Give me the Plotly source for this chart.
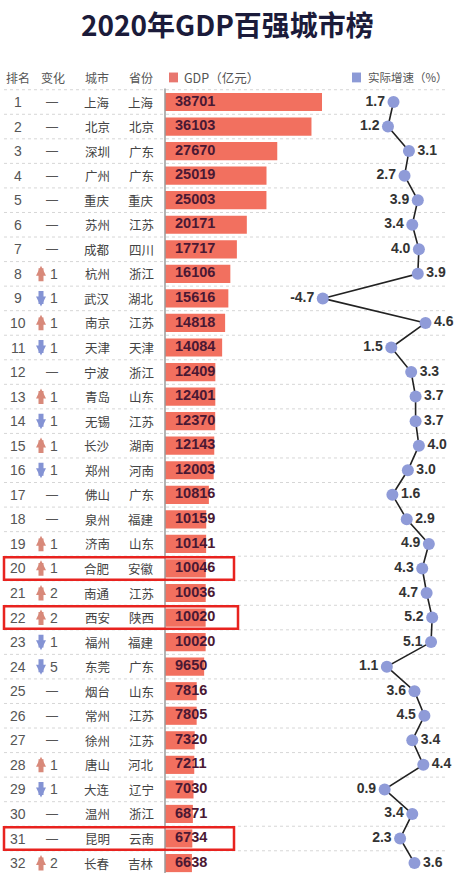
import plotly.graph_objects as go

# ---------------- data ----------------
ranks = list(range(1, 33))
cities = ["上海", "北京", "深圳", "广州", "重庆", "苏州", "成都", "杭州", "武汉", "南京",
          "天津", "宁波", "青岛", "无锡", "长沙", "郑州", "佛山", "泉州", "济南", "合肥",
          "南通", "西安", "福州", "东莞", "烟台", "常州", "徐州", "唐山", "大连", "温州",
          "昆明", "长春"]
provinces = ["上海", "北京", "广东", "广东", "重庆", "江苏", "四川", "浙江", "湖北", "江苏",
             "天津", "浙江", "山东", "江苏", "湖南", "河南", "广东", "福建", "山东", "安徽",
             "江苏", "陕西", "福建", "广东", "山东", "江苏", "江苏", "河北", "辽宁", "浙江",
             "云南", "吉林"]
changes = [0, 0, 0, 0, 0, 0, 0, 1, -1, 1, -1, 0, 1, -1, 1, -1, 0, 0, 1, 1,
           2, 2, -1, -5, 0, 0, 0, 1, -1, 0, 0, 2]
gdp = [38701, 36103, 27670, 25019, 25003, 20171, 17717, 16106, 15616, 14818,
       14084, 12409, 12401, 12370, 12143, 12003, 10816, 10159, 10141, 10046,
       10036, 10020, 10020, 9650, 7816, 7805, 7320, 7211, 7030, 6871, 6734, 6638]
growth = [1.7, 1.2, 3.1, 2.7, 3.9, 3.4, 4.0, 3.9, -4.7, 4.6, 1.5, 3.3, 3.7, 3.7, 4.0, 3.0,
          1.6, 2.9, 4.9, 4.3, 4.7, 5.2, 5.1, 1.1, 3.6, 4.5, 3.4, 4.4, 0.9, 3.4, 2.3, 3.6]

title_text = "2020年GDP百强城市榜"
header_labels = ["排名", "变化", "城市", "省份"]
gdp_legend = "GDP（亿元）"
growth_legend = "实际增速（%）"
highlight_ranks = [20, 22, 31]

# ---------------- geometry / style ----------------
W, H = 455, 873
ROW0_PX, ROW_STEP = 102, 24.55


def py_to_rank(py):
    return 1 + (py - ROW0_PX) / ROW_STEP


y_range = [py_to_rank(H), py_to_rank(0)]
BAR_ZERO_PX, BAR_SCALE = 165, 0.004057
x_range = [-BAR_ZERO_PX / BAR_SCALE, (W - BAR_ZERO_PX) / BAR_SCALE]
G_ZERO_PX, G_SCALE = 374.7, 11.05
x2_range = [-G_ZERO_PX / G_SCALE, (W - G_ZERO_PX) / G_SCALE]

NUM_FONT = "Liberation Sans"
CJK_FONT = "Noto Sans CJK SC"

label_sides = ["L", "L", "R", "L", "L", "L", "L", "R", "L", "R", "L", "R", "R", "R", "R", "R",
               "R", "R", "L", "L", "L", "L", "L", "L", "L", "L", "R", "R", "L", "L", "L", "R"]
text_pos = ["middle left" if s == "L" else "middle right" for s in label_sides]

fig = go.Figure()

fig.add_trace(go.Bar(
    x=gdp, y=ranks, orientation="h", width=0.74,
    marker=dict(color="#f2705f", line=dict(width=0)),
    hoverinfo="skip", showlegend=False))

fig.add_trace(go.Scatter(
    x=[10 / BAR_SCALE] * len(gdp), y=ranks, mode="text",
    text=[str(v) for v in gdp], textposition="middle right",
    textfont=dict(family=NUM_FONT, size=14.5, color="#4a1833", weight="bold"),
    hoverinfo="skip", showlegend=False))

fig.add_trace(go.Scatter(
    x=growth, y=ranks, xaxis="x2", mode="lines+markers+text",
    line=dict(color="#222222", width=1.6),
    marker=dict(size=12, color="#8f9bd8", line=dict(width=0)),
    text=[f"{v:.1f}" for v in growth], textposition=text_pos,
    textfont=dict(family=NUM_FONT, size=14, color="#333333", weight="bold"),
    hoverinfo="skip", showlegend=False, cliponaxis=False))

annotations = []
# title
annotations.append(dict(xref="paper", yref="paper", x=0.5, y=1 - 24 / H, text=title_text,
                        showarrow=False, xanchor="center", yanchor="middle",
                        font=dict(family=CJK_FONT, size=28, color="#1b1b3a", weight="bold")))
# header
hdr_x = [18, 53, 97, 141]
for hx, lab in zip(hdr_x, header_labels):
    annotations.append(dict(xref="paper", yref="y", x=hx / W, y=0, text=lab, showarrow=False,
                            xanchor="center", font=dict(family=CJK_FONT, size=12, color="#555555")))
annotations.append(dict(xref="paper", yref="y", x=182 / W, y=0, text=gdp_legend, showarrow=False,
                        xanchor="left", font=dict(family=CJK_FONT, size=12.5, color="#555555")))
annotations.append(dict(xref="paper", yref="y", x=366 / W, y=0, text=growth_legend, showarrow=False,
                        xanchor="left", font=dict(family=CJK_FONT, size=11.5, color="#555555")))

for r, c, city, prov in zip(ranks, changes, cities, provinces):
    annotations.append(dict(xref="paper", yref="y", x=18 / W, y=r, text=str(r), showarrow=False,
                            xanchor="center", font=dict(family=NUM_FONT, size=14, color="#555555")))
    annotations.append(dict(xref="paper", yref="y", x=97 / W, y=r, text=city, showarrow=False,
                            xanchor="center", font=dict(family=CJK_FONT, size=12.5, color="#444444")))
    annotations.append(dict(xref="paper", yref="y", x=141 / W, y=r, text=prov, showarrow=False,
                            xanchor="center", font=dict(family=CJK_FONT, size=12.5, color="#444444")))
    if c == 0:
        annotations.append(dict(xref="paper", yref="y", x=52 / W, y=r, text="—", showarrow=False,
                                xanchor="center", font=dict(family=NUM_FONT, size=12, color="#555555")))
    else:
        annotations.append(dict(xref="paper", yref="y", x=48 / W, y=r, text=str(abs(c)),
                                showarrow=False, xanchor="left",
                                font=dict(family=NUM_FONT, size=14, color="#555555")))
        up = c > 0
        annotations.append(dict(xref="paper", yref="y", x=41 / W,
                                y=r - 0.33 if up else r + 0.33, text="",
                                showarrow=True, ax=0, ay=17 if up else -17,
                                arrowhead=2, arrowsize=0.4, arrowwidth=5,
                                arrowcolor="#d8897a" if up else "#8493d4"))

shapes = []
# dashed separators
for k in range(0, 32):
    shapes.append(dict(type="line", xref="paper", yref="y", x0=4 / W, x1=448 / W,
                       y0=k + 0.5, y1=k + 0.5, line=dict(color="#d6d6d6", width=1, dash="dot"),
                       layer="below"))
# vertical axis line of bars
shapes.append(dict(type="line", xref="x", yref="y", x0=0, x1=0, y0=0.45, y1=y_range[0],
                   line=dict(color="#9a9a9a", width=1.5)))
# legend squares
shapes.append(dict(type="rect", xref="paper", yref="y", x0=169 / W, x1=178 / W, y0=-0.2, y1=0.2,
                   fillcolor="#e8776f", line=dict(width=0)))
shapes.append(dict(type="rect", xref="paper", yref="y", x0=352 / W, x1=361 / W, y0=-0.2, y1=0.2,
                   fillcolor="#8c9ad6", line=dict(width=0)))
# red highlight boxes
for r in highlight_ranks:
    x1 = 238 if r == 22 else 234
    shapes.append(dict(type="rect", xref="paper", yref="y", x0=4 / W, x1=x1 / W,
                       y0=r - 0.46, y1=r + 0.46, line=dict(color="#e8231f", width=2.5),
                       fillcolor="rgba(0,0,0,0)"))

fig.update_layout(
    width=W, height=H, margin=dict(l=0, r=0, t=0, b=0),
    paper_bgcolor="white", plot_bgcolor="white",
    xaxis=dict(range=x_range, visible=False, fixedrange=True),
    xaxis2=dict(range=x2_range, overlaying="x", visible=False, fixedrange=True),
    yaxis=dict(range=y_range, visible=False, fixedrange=True),
    annotations=annotations, shapes=shapes, showlegend=False,
    font=dict(family=CJK_FONT),
)

fig.write_html("out.html", config={"displayModeBar": False},
               post_script="document.body.style.margin='0';")
